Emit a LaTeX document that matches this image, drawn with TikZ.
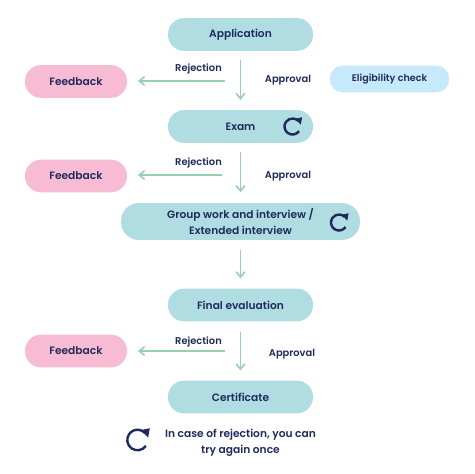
\documentclass[tikz,border=0pt]{standalone}
\usepackage{fontspec}
\setmainfont{Poppins}[UprightFont=*-Medium,BoldFont=*-SemiBold]
\usetikzlibrary{arrows.meta}
\definecolor{ink}{HTML}{1F2A5C}
\definecolor{teal}{HTML}{AFDDE1}
\definecolor{pinkbox}{HTML}{F7BBD4}
\definecolor{bluebox}{HTML}{C6EAFB}
\definecolor{arrowgreen}{HTML}{98CFAD}
\tikzset{
  pill/.style={rounded corners=12pt, minimum height=24.5pt, inner sep=0pt, align=center, text=ink, font=\fontsize{8}{12}\selectfont\bfseries},
  tealbox/.style={pill, fill=teal, minimum width=108.75pt},
  fbbox/.style={pill, fill=pinkbox, minimum width=76.5pt},
  flow/.style={draw=arrowgreen, line width=1.2pt, -{Straight Barb[length=4pt,width=6.5pt,line width=1.2pt]}},
  lbl/.style={text=ink, inner sep=0pt, align=center, font=\fontsize{7.4}{12}\selectfont\bfseries},
  pics/retry/.style={code={
    \draw[ink, line width=1.8pt] (-35:6pt) arc[start angle=-35, end angle=-315, radius=6pt];
    \fill[ink] (2pt,5.8pt) -- (7.2pt,6.9pt) -- (6.2pt,1.4pt) -- cycle;
  }}
}
\begin{document}
\begin{tikzpicture}[x=0.75pt,y=-0.75pt]
\useasboundingbox[fill=white] (0,0) rectangle (474,474);
\node[tealbox] (app) at (240.5,34.5) {\rule{0pt}{7.2pt}Application};
\node[tealbox] (exam) at (240.5,126.5) {Exam};
\node[tealbox,minimum width=179pt,minimum height=27.5pt,rounded corners=13pt] (group) at (240.5,221.5) {Group work and interview /\\Extended interview};
\node[tealbox] (final) at (240.5,305) {Final evaluation};
\node[tealbox] (cert) at (240.5,397) {Certificate};
\node[fbbox] (fb1) at (76,81.5) {Feedback};
\node[fbbox] (fb2) at (76,176) {Feedback};
\node[fbbox] (fb3) at (76,351) {Feedback};
\node[pill,fill=bluebox,minimum width=89.5pt,minimum height=20pt,rounded corners=9.5pt,font=\fontsize{7.2}{12}\selectfont\bfseries] (elig) at (389.5,79) {Eligibility check};

\coordinate (r1) at (225,81);
\coordinate (r2) at (222,175);
\coordinate (r3) at (225,351);
\draw[flow,shorten <=7pt,shorten >=7.5pt] (app.south) -- (app.south |- exam.north);
\draw[flow,shorten <=7pt,shorten >=8pt] (exam.south) -- (exam.south |- group.north);
\draw[flow,shorten <=7.5pt,shorten >=7.5pt] (group.south) -- (group.south |- final.north);
\draw[flow,shorten <=7.5pt,shorten >=7.5pt] (final.south) -- (cert.north);
\draw[flow,shorten >=8pt] (r1) -- (r1 -| fb1.east);
\draw[flow,shorten >=8pt] (r2) -- (r2 -| fb2.east);
\draw[flow,shorten >=8pt] (r3) -- (r3 -| fb3.east);

\node[lbl] (l1) at (198.5,69) {Rejection};
\node[lbl] (l2) at (288,80) {Approval};
\node[lbl] (l3) at (198.5,163) {Rejection};
\node[lbl] (l4) at (288,176) {Approval};
\node[lbl] (l5) at (198.5,341.5) {Rejection};
\node[lbl] (l6) at (292,354) {Approval};
\node[lbl,font=\fontsize{8}{11.8}\selectfont\bfseries] (note) at (240.5,442.5) {In case of rejection, you can\\try again once};

\pic at (292.5,126.5) {retry};
\pic at (339,222.5) {retry};
\pic[scale=1.28] at (137.5,440) {retry};
\end{tikzpicture}
\end{document}
